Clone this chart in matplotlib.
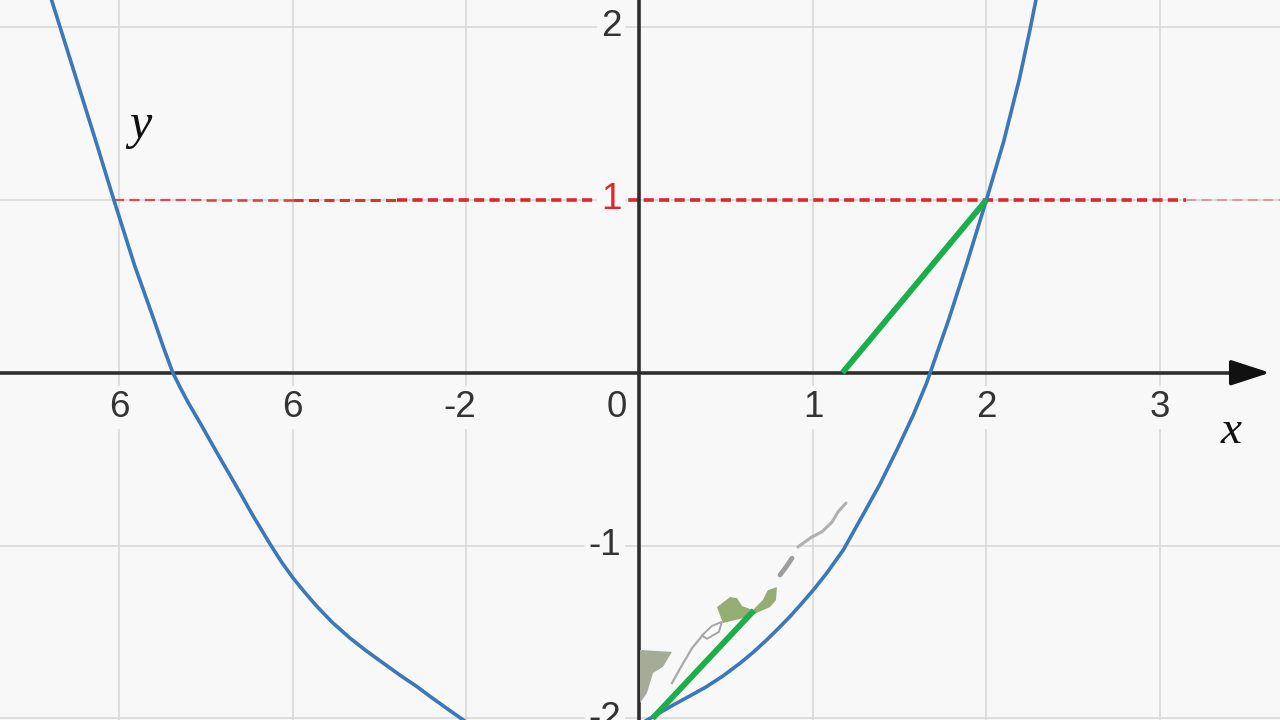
import numpy as np
import matplotlib.pyplot as plt
from matplotlib.patches import ArrowStyle

# ---- data (data units) ----
x_ticks = [-3, -2, -1, 0, 1, 2, 3]
x_tick_labels = ["6", "6", "-2", "0", "1", "2", "3"]
y_ticks = [-2, -1, 1, 2]
y_tick_labels = ["-2", "-1", "1", "2"]
y_tick_colors = ["#333333", "#333333", "#e0262c", "#333333"]

curve_left_x = [-3.42, -3.39, -3.34, -3.24, -3.14, -3.03, -2.91, -2.80, -2.745,
                -2.69, -2.645, -2.60, -2.533, -2.437, -2.322, -2.226, -2.13,
                -2.06, -1.995, -1.93, -1.861, -1.77, -1.669, -1.58, -1.477,
                -1.38, -1.284, -1.19, -1.092, -1.0]
curve_left_y = [2.25, 2.16, 2.00, 1.68, 1.36, 1.00, 0.62, 0.31, 0.15,
                0.0, -0.09, -0.175, -0.29, -0.46, -0.66, -0.83, -0.99,
                -1.10, -1.19, -1.27, -1.35, -1.445, -1.535, -1.605, -1.68,
                -1.75, -1.815, -1.885, -1.955, -2.02]
curve_right_x = [0.0, 0.06, 0.195, 0.29, 0.387, 0.48, 0.579, 0.656, 0.733,
                 0.80, 0.867, 0.935, 1.002, 1.079, 1.175, 1.281, 1.386, 1.482,
                 1.578, 1.655, 1.70, 1.78, 1.88, 2.0, 2.10, 2.19, 2.25, 2.29, 2.30]
curve_right_y = [-2.035, -2.0, -1.922, -1.87, -1.816, -1.755, -1.681, -1.617, -1.546,
                 -1.48, -1.411, -1.335, -1.257, -1.16, -1.025, -0.835, -0.645, -0.45,
                 -0.245, -0.06, 0.07, 0.30, 0.61, 1.0, 1.34, 1.70, 1.98, 2.18, 2.25]

level_y = 1
level_x = [-3.03, -2.5, -2.0, -1.4, 3.15, 3.70]

green_upper_x = [1.17, 2.0]
green_upper_y = [0.0, 1.0]
green_lower_x = [0.075, 0.66]
green_lower_y = [-2.0, -1.375]

# leftover smudges near the lower green stroke
smudge_poly_x = [0.003, 0.187, 0.135, 0.078, 0.043, 0.003]
smudge_poly_y = [-1.604, -1.615, -1.702, -1.737, -1.853, -1.911]
blob_x = [0.447, 0.522, 0.562, 0.591, 0.654, 0.711, 0.74, 0.792, 0.787, 0.752, 0.62, 0.481]
blob_y = [-1.356, -1.298, -1.304, -1.35, -1.373, -1.315, -1.258, -1.24, -1.315, -1.356, -1.414, -1.448]
loop_x = [0.36, 0.418, 0.475, 0.458, 0.389]
loop_y = [-1.52, -1.465, -1.441, -1.499, -1.539]
squiggle_x = [0.913, 0.994, 1.052, 1.11, 1.144, 1.19]
squiggle_y = [-1.008, -0.95, -0.92, -0.864, -0.806, -0.754]
stub_x = [0.81, 0.844, 0.879]
stub_y = [-1.17, -1.125, -1.073]
thin_x = [0.187, 0.245, 0.303, 0.36]
thin_y = [-1.796, -1.692, -1.593, -1.524]

bg = "#f8f8f8"
grid_c = "#d9d9d9"
axis_c = "#2e2e2e"
blue = "#3b78b9"
green = "#1cae4a"
red = "#e0262c"

fig = plt.figure(figsize=(12.8, 7.2), dpi=100, facecolor=bg)
ax = fig.add_axes([0, 0, 1, 1])
ax.set_xlim(-3.686, 3.692)
ax.set_ylim(-2.009, 2.156)
ax.set_axis_off()

# grid
for xv in x_ticks:
    ax.axvline(xv, color=grid_c, lw=1.2, zorder=1)
for yv in y_ticks:
    ax.axhline(yv, color=grid_c, lw=1.2, zorder=1)

# dashed level line: thin on the left, heavier in the middle, fading at the right
seg_lw = [1.6, 1.9, 2.2, 2.6, 1.5]
seg_alpha = [0.8, 0.85, 0.95, 1.0, 0.35]
for i in range(len(level_x) - 1):
    w = seg_lw[i]
    ax.plot(level_x[i:i + 2], [level_y, level_y], color=red, lw=w,
            alpha=seg_alpha[i], dashes=(7.3 / w, 3.8 / w), zorder=3)

# axes
ax.axvline(0, color=axis_c, lw=2.6, zorder=4)
ax.plot([ax.get_xlim()[0], 3.45], [0, 0], color=axis_c, lw=2.6, zorder=4,
        solid_capstyle="butt")
ax.annotate("", xy=(3.634, 0), xytext=(3.42, 0),
            arrowprops=dict(arrowstyle=ArrowStyle("-|>", head_length=0.4, head_width=0.13),
                            mutation_scale=60, color="#111111", lw=2.6,
                            shrinkA=0, shrinkB=0),
            zorder=5)

# smudges
ax.fill(smudge_poly_x, smudge_poly_y, color="#a6ab98", lw=0, zorder=5)
ax.plot(thin_x, thin_y, color="#a9a9a9", lw=1.6, zorder=5)
ax.fill(blob_x, blob_y, color="#93ad72", lw=0, zorder=5)
ax.fill(loop_x, loop_y, facecolor="#ffffff", edgecolor="#a5a5a5", lw=1.4, zorder=6)
ax.plot(stub_x, stub_y, color="#9e9e9e", lw=3.5, solid_capstyle="round", zorder=5)
ax.plot(squiggle_x, squiggle_y, color="#b0b0b0", lw=2.2, solid_capstyle="round", zorder=5)

# curve and green strokes
ax.plot(curve_left_x, curve_left_y, color=blue, lw=2.6, zorder=7,
        solid_joinstyle="round")
ax.plot(curve_right_x, curve_right_y, color=blue, lw=2.6, zorder=7,
        solid_joinstyle="round")
ax.plot(green_upper_x, green_upper_y, color=green, lw=4.2, zorder=8,
        solid_capstyle="butt")
ax.plot(green_lower_x, green_lower_y, color=green, lw=4.2, zorder=8,
        solid_capstyle="butt")

# tick labels
box = dict(facecolor=bg, edgecolor="none", pad=3)
for xv, lab in zip(x_ticks, x_tick_labels):
    if xv == 0:
        xpos = -0.13
    elif lab.startswith("-"):
        xpos = xv - 0.035
    else:
        xpos = xv
    ax.text(xpos, -0.2, lab, ha="center", va="center", fontsize=26.5,
            family="Liberation Sans", color="#333333", bbox=box, zorder=9)
for yv, lab, c in zip(y_ticks, y_tick_labels, y_tick_colors):
    ax.text(-0.104, yv, lab, ha="right", va="center", fontsize=26.5,
            family="Liberation Sans", color=c, bbox=box, zorder=9)

# axis names
ax.text(-2.879, 1.36, "y", ha="center", va="baseline", fontsize=36,
        family="Liberation Serif", style="italic", color="#111111", zorder=9)
ax.text(3.409, -0.407, "x", ha="center", va="baseline", fontsize=34,
        family="Liberation Serif", style="italic", color="#111111", zorder=9)

fig.savefig("out.png", dpi=100, facecolor=bg)
